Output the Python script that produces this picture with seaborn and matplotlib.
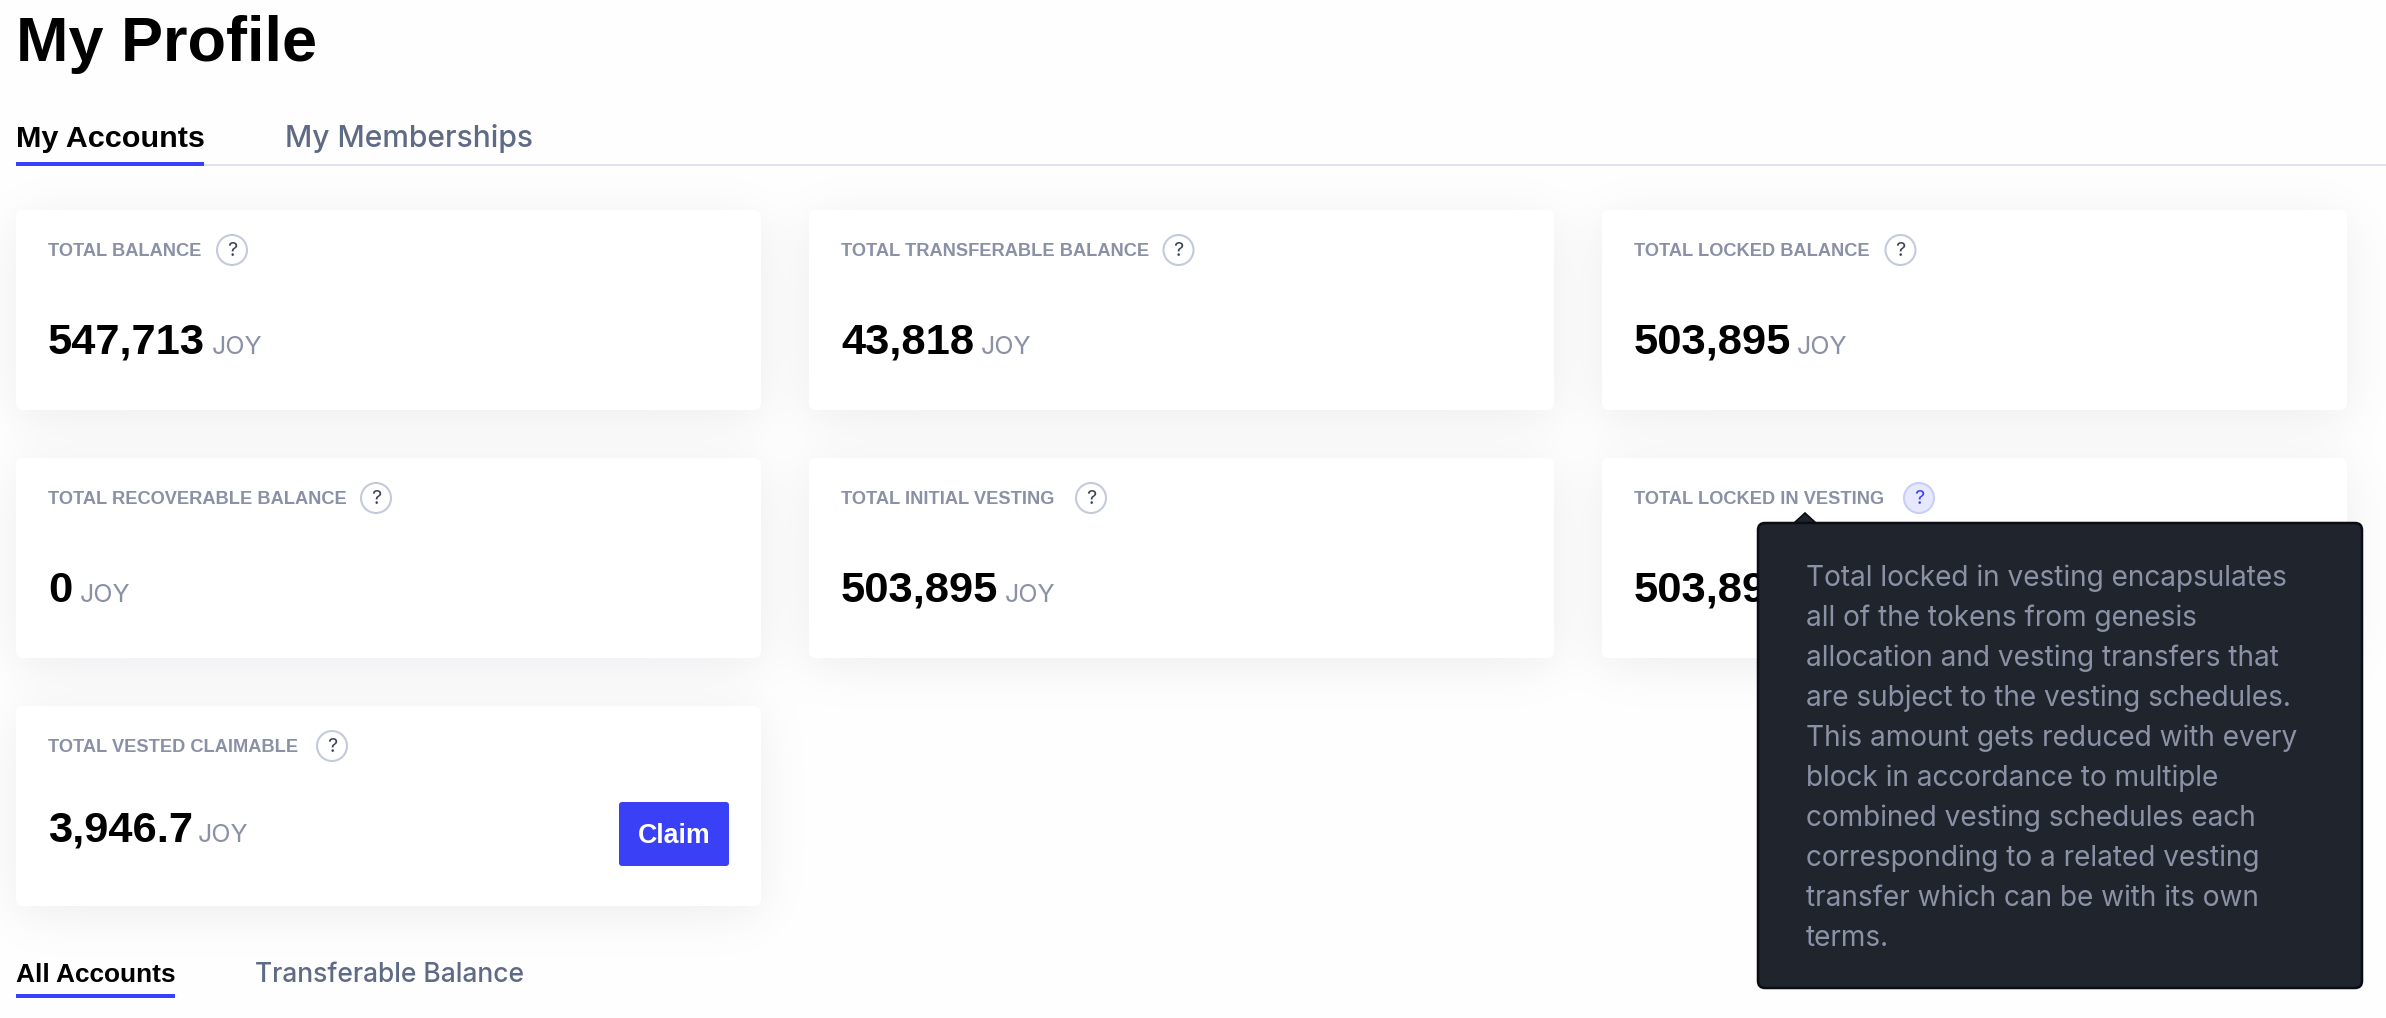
import numpy as np
import seaborn as sns
import matplotlib
matplotlib.use("Agg")
import matplotlib.pyplot as plt
from matplotlib.patches import FancyBboxPatch, Circle, Polygon, Rectangle

# ---------- content ----------
page_title = "My Profile"
top_tabs = ["My Accounts", "My Memberships"]
bottom_tabs = ["All Accounts", "Transferable Balance"]
card_labels = ["TOTAL BALANCE", "TOTAL TRANSFERABLE BALANCE", "TOTAL LOCKED BALANCE",
               "TOTAL RECOVERABLE BALANCE", "TOTAL INITIAL VESTING", "TOTAL LOCKED IN VESTING",
               "TOTAL VESTED CLAIMABLE"]
card_values = ["547,713", "43,818", "503,895", "0", "503,895", "503,895", "3,946.7"]
unit = "JOY"
button_label = "Claim"
tooltip_lines = [
    "Total locked in vesting encapsulates",
    "all of the tokens from genesis",
    "allocation and vesting transfers that",
    "are subject to the vesting schedules.",
    "This amount gets reduced with every",
    "block in accordance to multiple",
    "combined vesting schedules each",
    "corresponding to a related vesting",
    "transfer which can be with its own",
    "terms.",
]

# ---------- layout (pixels) ----------
W, H = 2386, 1018
col_x = [16, 809, 1602]
row_y = [210, 458, 706]
card_w, card_h = 745, 200
grid = [(0, 0), (1, 0), (2, 0), (0, 1), (1, 1), (2, 1), (0, 2)]
help_x = [232, 1178.5, 1900.5, 376, 1091, 1919, 332]
unit_x = [212, 981, 1797, 80, 1005, None, 198]  # the sixth unit sits behind the tooltip

BLUE = "#3A40F5"
LABEL = "#8A90A5"
TAB = "#5F6A85"
BODY = "Inter"
HEAD = "Liberation Sans"

sns.set_theme(style="white", rc={"font.family": [BODY, "DejaVu Sans"]})
plt.rcParams["font.family"] = [BODY, "DejaVu Sans"]

fig = plt.figure(figsize=(W / 100, H / 100), dpi=100, facecolor="white")
ax = fig.add_axes([0, 0, 1, 1])
ax.set_xlim(0, W)
ax.set_ylim(H, 0)
ax.axis("off")
sns.despine(ax=ax, left=True, bottom=True)


def px(size):
    return size * 0.72


# soft card shadow
yy, xx = np.mgrid[0:H, 0:W] + 0.5
light = np.ones((H, W))
for c, r in grid:
    x0, y0 = col_x[c], row_y[r]
    sx = 1 / (1 + np.exp(-(xx - x0) / 15)) * 1 / (1 + np.exp((xx - x0 - card_w) / 15))
    sy = 1 / (1 + np.exp(-(yy - y0 - 8) / 15)) * 1 / (1 + np.exp((yy - y0 - card_h - 8) / 15))
    light *= 1 - 0.085 * sx * sy
shadow_rgb = np.array([40, 40, 70]) / 255
bg = np.stack([light + (1 - light) * shadow_rgb[i] for i in range(3)], axis=-1)
ax.imshow(bg, extent=(0, W, H, 0), aspect="auto", zorder=0, interpolation="nearest")
ax.set_xlim(0, W)
ax.set_ylim(H, 0)

# heading
ax.text(16, 61, page_title, fontsize=px(63), fontweight="bold", family=HEAD, color="black",
        va="baseline", zorder=3)

# top tabs
ax.add_patch(Rectangle((16, 164), W - 16, 2.4, facecolor="#DFE2EE", edgecolor="none", zorder=2))
ax.add_patch(Rectangle((16, 162), 188, 4, facecolor=BLUE, edgecolor="none", zorder=3))
ax.text(16, 147, top_tabs[0], fontsize=px(30.5), fontweight="bold", family=HEAD, color="black",
        va="baseline", zorder=3)
ax.text(285, 147, top_tabs[1], fontsize=px(30), fontweight="medium", color=TAB, va="baseline", zorder=3)

# cards
for i, (label, value) in enumerate(zip(card_labels, card_values)):
    c, r = grid[i]
    x0, y0 = col_x[c], row_y[r]
    ax.add_patch(FancyBboxPatch((x0 + 6, y0 + 6), card_w - 12, card_h - 12,
                                boxstyle="round,pad=6,rounding_size=7",
                                facecolor="white", edgecolor="none", zorder=1))
    ax.text(x0 + 32, y0 + 46, label, fontsize=px(18.3), fontweight="bold", family=HEAD, color=LABEL,
            va="baseline", zorder=3)
    base = y0 + (136 if r == 2 else 144)
    ax.text(x0 + 32, base, value, fontsize=px(43.5), fontweight="bold", family=HEAD, color="black",
            va="baseline", zorder=3)
    if unit_x[i] is not None:
        ax.text(unit_x[i], base, unit, fontsize=px(25), fontweight="normal", color=LABEL,
                va="baseline", zorder=3)
    active = i == 5
    ax.add_patch(Circle((help_x[i], y0 + 40), 15,
                        facecolor="#E6E9FD" if active else "white",
                        edgecolor="#C8CEF8" if active else "#C5CADB", linewidth=1.5, zorder=3))
    ax.text(help_x[i], y0 + 41, "?", fontsize=px(20), fontweight="normal",
            color=BLUE if active else "#3D4356", ha="center", va="center", zorder=4)

# claim button
ax.add_patch(FancyBboxPatch((621, 804), 106, 60, boxstyle="round,pad=2,rounding_size=3",
                            facecolor=BLUE, edgecolor="none", zorder=3))
ax.text(674, 836, button_label, fontsize=px(26.8), fontweight="bold", family=HEAD, color="white",
        ha="center", va="center", zorder=4)

# bottom tabs
ax.add_patch(Rectangle((16, 994), 159, 4, facecolor=BLUE, edgecolor="none", zorder=3))
ax.text(16, 982, bottom_tabs[0], fontsize=px(26.2), fontweight="bold", family=HEAD, color="black",
        va="baseline", zorder=3)
ax.text(255, 982, bottom_tabs[1], fontsize=px(26.4), fontweight="medium", color=TAB, va="baseline", zorder=3)

# tooltip
ax.add_patch(Polygon([[1793, 524], [1805, 513], [1817, 524]], closed=True,
                     facecolor="#20242D", edgecolor="#0B0D12", linewidth=1.2, zorder=5))
ax.add_patch(FancyBboxPatch((1765, 530), 590, 451, boxstyle="round,pad=7,rounding_size=7",
                            facecolor="#20242D", edgecolor="#0B0D12", linewidth=1.8, zorder=6))
for n, line in enumerate(tooltip_lines):
    ax.text(1806, 586 + 40 * n, line, fontsize=px(28), fontweight="normal", color="#8C92A6",
            va="baseline", zorder=7)

fig.savefig("out.png", dpi=100, facecolor="white")
